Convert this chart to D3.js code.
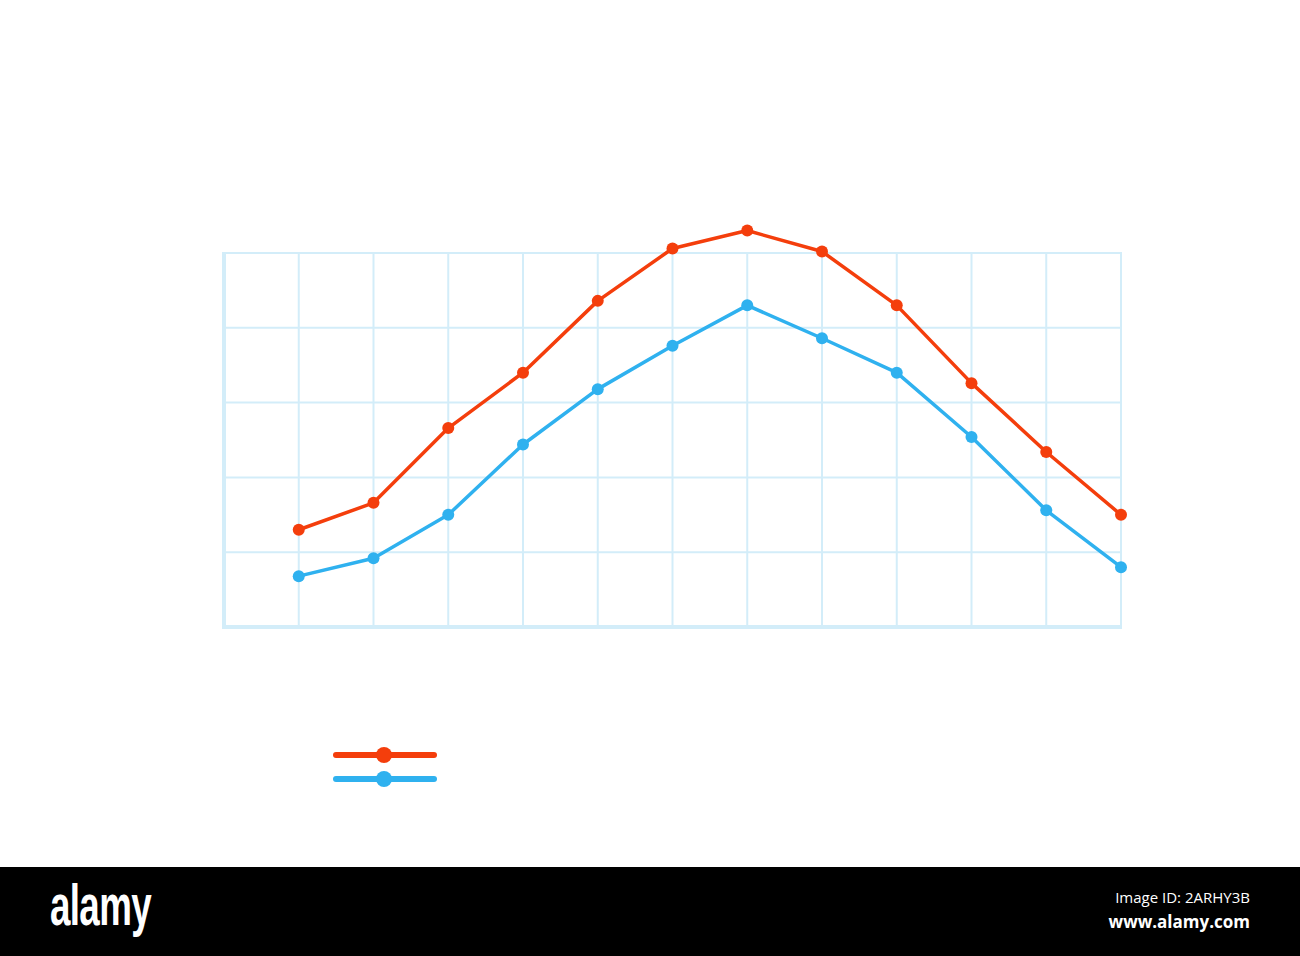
<!DOCTYPE html>
<html><head><meta charset="utf-8">
<script src="https://cdn.jsdelivr.net/npm/d3@7"></script>
<style>html,body{margin:0;padding:0;background:#fff;}svg{display:block;}</style>
</head><body>
<script>
const months = [1,2,3,4,5,6,7,8,9,10,11,12];
const seriesHigh = [6.5, 8.3, 13.3, 17, 21.8, 25.3, 26.5, 25.1, 21.5, 16.3, 11.7, 7.5];
const seriesLow  = [3.4, 4.6, 7.5, 12.2, 15.9, 18.8, 21.5, 19.3, 17, 12.7, 7.8, 4];
const xTicks = d3.range(0, 13);
const yTicks = [0, 5, 10, 15, 20, 25];
const seriesNames = ["High", "Low"];
const colors = ["#f43e0c", "#2fb1ef"];

const W = 1300, H = 956;
const svg = d3.select("body").append("svg").attr("width", W).attr("height", H);
svg.append("rect").attr("width", W).attr("height", H).attr("fill", "#fff");

const x = d3.scaleLinear().domain([0, 12]).range([224, 1121]);
const y = d3.scaleLinear().domain([0, 25]).range([627, 253]);

const grid = svg.append("g");
const gridColor = "#d3edf9";
grid.selectAll("line.v").data(xTicks).join("line")
  .attr("x1", d => x(d)).attr("x2", d => x(d))
  .attr("y1", y(25)).attr("y2", y(0))
  .attr("stroke", gridColor).attr("stroke-width", d => d === 0 ? 4 : 2);
grid.selectAll("line.h").data(yTicks).join("line")
  .attr("y1", d => y(d)).attr("y2", d => y(d))
  .attr("x1", x(0) - 2).attr("x2", x(12) + 1)
  .attr("stroke", gridColor).attr("stroke-width", d => d === 0 ? 4 : 2);

const line = d3.line().x((d, i) => x(months[i])).y(d => y(d));
[seriesHigh, seriesLow].forEach((s, k) => {
  svg.append("path").datum(s).attr("d", line)
    .attr("fill", "none").attr("stroke", colors[k]).attr("stroke-width", 3.5)
    .attr("stroke-linejoin", "round");
  svg.append("g").selectAll("circle").data(s).join("circle")
    .attr("cx", (d, i) => x(months[i])).attr("cy", d => y(d)).attr("r", 6)
    .attr("fill", colors[k]);
});

// legend
const leg = svg.append("g");
seriesNames.forEach((n, k) => {
  const ly = 755 + k * 24;
  leg.append("line").attr("x1", 336).attr("x2", 434).attr("y1", ly).attr("y2", ly)
    .attr("stroke", colors[k]).attr("stroke-width", 6).attr("stroke-linecap", "round");
  leg.append("circle").attr("cx", 384).attr("cy", ly).attr("r", 8).attr("fill", colors[k]);
});

// banner
svg.append("rect").attr("x", 0).attr("y", 867).attr("width", W).attr("height", H - 867).attr("fill", "#000");
svg.append("text").attr("x", 50).attr("y", 925).text("alamy")
  .attr("fill", "#fff").attr("font-family", "Liberation Sans Narrow, Liberation Sans, Arial, sans-serif")
  .attr("font-weight", "bold").attr("font-size", 58).attr("textLength", 101).attr("lengthAdjust", "spacingAndGlyphs")
  .attr("letter-spacing", -1);
svg.append("text").attr("x", 1250).attr("y", 903).attr("text-anchor", "end").text("Image ID: 2ARHY3B")
  .attr("fill", "#fff").attr("font-family", "Open Sans, sans-serif").attr("font-size", 15);
svg.append("text").attr("x", 1250).attr("y", 928).attr("text-anchor", "end").text("www.alamy.com")
  .attr("fill", "#fff").attr("font-family", "Open Sans, sans-serif").attr("font-weight", "bold").attr("font-size", 17);
</script>
</body></html>
